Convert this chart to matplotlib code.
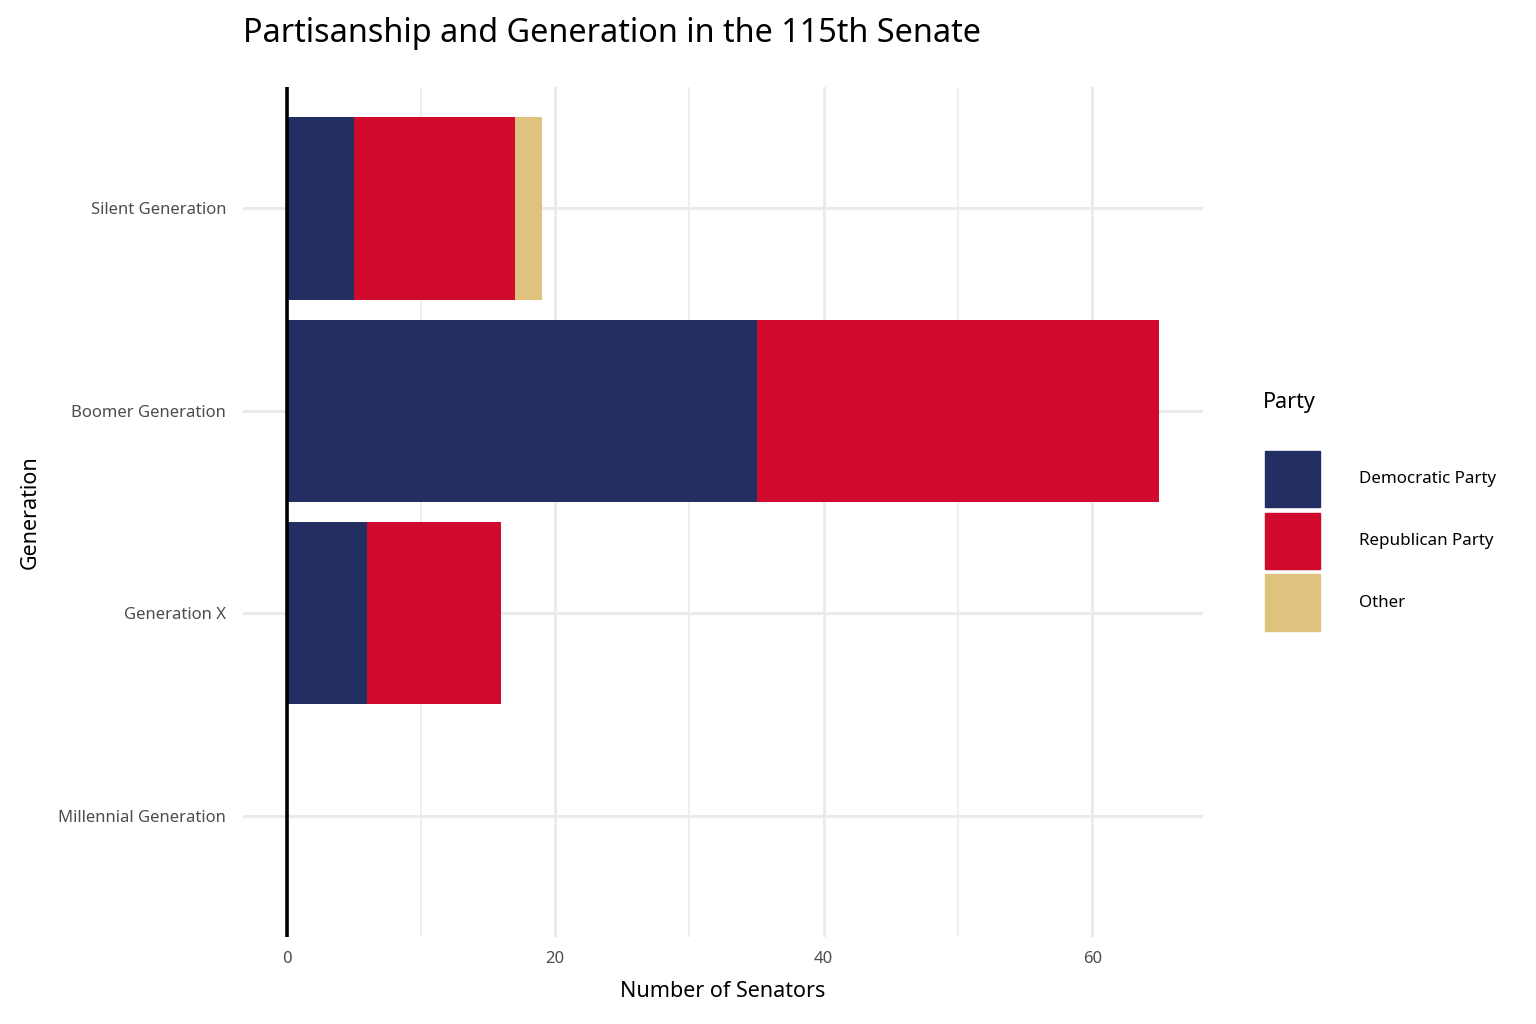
import matplotlib
matplotlib.use('Agg')
import matplotlib.pyplot as plt
import matplotlib.patches as mpatches
import numpy as np

plt.rcParams['font.family'] = ['Noto Sans', 'DejaVu Sans']

# data
generations = ['Silent Generation', 'Boomer Generation', 'Generation X', 'Millennial Generation']
parties = ['Democratic Party', 'Republican Party', 'Other']
democratic = [5, 35, 6, 0]
republican = [12, 30, 10, 0]
other = [2, 0, 0, 0]
colors = ['#232f62', '#d00a2d', '#dfc27d']

fig = plt.figure(figsize=(15.36, 10.24), dpi=100)
ax = fig.add_axes([0.1582, 0.085, 0.625, 0.830])

y = np.arange(len(generations))
left = np.zeros(len(generations))
for vals, col, name in zip([democratic, republican, other], colors, parties):
    ax.barh(y, vals, left=left, height=0.9, color=col, label=name, zorder=2)
    left = left + np.array(vals)

ax.set_xlim(-3.25, 68.25)
ax.set_ylim(len(generations) - 0.4, -0.6)
ax.set_yticks(y)
ax.set_yticklabels(generations)
ax.set_xticks([0, 20, 40, 60])
ax.set_xticks([10, 30, 50], minor=True)

for s in ax.spines.values():
    s.set_visible(False)
ax.tick_params(axis='both', which='both', length=0, labelsize=12, labelcolor='#4d4d4d')
ax.tick_params(axis='x', pad=10)
ax.tick_params(axis='y', pad=12)

ax.grid(axis='x', which='major', color='#ebebeb', lw=2.1, zorder=0)
ax.grid(axis='x', which='minor', color='#ebebeb', lw=1.2, zorder=0)
ax.grid(axis='y', which='major', color='#ebebeb', lw=2.3, zorder=0)
ax.set_axisbelow(True)
ax.axvline(0, color='black', lw=2.6, zorder=3)

ax.set_xlabel('Number of Senators', fontsize=15.5, labelpad=10)
ax.set_ylabel('Generation', fontsize=15.5, labelpad=13)

fig.text(0.158, 0.967, 'Partisanship and Generation in the 115th Senate',
         fontsize=23.3, ha='left', va='center')

# legend
fig.text(0.822, 0.607, 'Party', fontsize=15.5, ha='left', va='center')
handles = [mpatches.Patch(color=c, label=n) for c, n in zip(colors, parties)]
leg = fig.legend(handles=handles, loc='upper left', bbox_to_anchor=(0.8237, 0.5596),
                 frameon=False, fontsize=12.2, handlelength=3.25, handleheight=4.75,
                 labelspacing=0.3, handletextpad=2.3, borderaxespad=0, borderpad=0)

fig.savefig('out.png', dpi=100)
